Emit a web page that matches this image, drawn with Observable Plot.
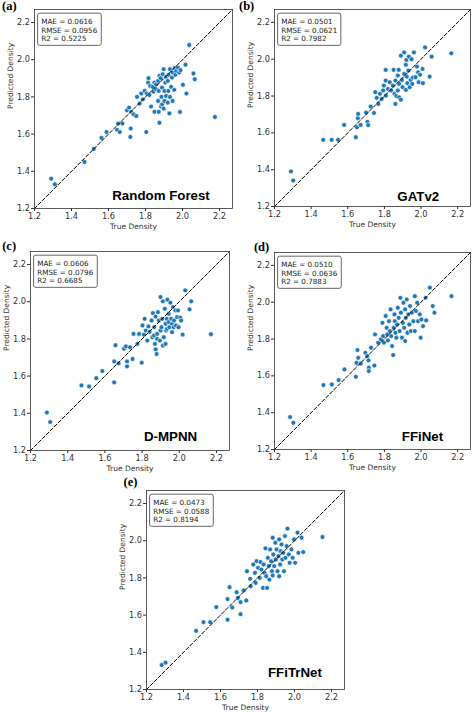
<!DOCTYPE html>
<html>
<head>
<meta charset="utf-8">
<script src="https://cdn.jsdelivr.net/npm/d3@7"></script>
<script src="https://cdn.jsdelivr.net/npm/@observablehq/plot@0.6"></script>
<style>
  html, body { margin: 0; padding: 0; background: #fff; }
  #figure { position: relative; width: 474px; height: 713px; overflow: hidden; background: #fff; }
  .panel { position: absolute; }
  .panel svg { overflow: visible; display: block; }
</style>
</head>
<body>
<div id="figure"></div>
<script>
// Shared axis setup: both axes show density in g/cm3 over the same range.
const densityTicks = [1.2, 1.4, 1.6, 1.8, 2.0, 2.2];
const axisRange = [1.2, 2.27];

// [true density, predicted density] for each model on the test set
const randomForest = [
  [1.29,1.36],[1.31,1.33],[1.47,1.45],[1.52,1.52],[1.562,1.58],[1.589,1.611],[1.646,1.623],[1.652,1.656],
  [1.661,1.611],[1.675,1.657],[1.70,1.728],[1.711,1.742],[1.718,1.585],[1.72,1.63],[1.723,1.72],[1.736,1.706],
  [1.75,1.697],[1.754,1.80],[1.768,1.764],[1.777,1.818],[1.786,1.787],[1.795,1.832],[1.804,1.611],[1.807,1.818],
  [1.814,1.877],[1.816,1.901],[1.821,1.81],[1.825,1.859],[1.83,1.748],[1.839,1.854],[1.843,1.828],[1.848,1.877],
  [1.848,1.72],[1.857,1.868],[1.857,1.841],[1.868,1.886],[1.868,1.778],[1.871,1.72],[1.871,1.832],[1.875,1.913],
  [1.875,1.661],[1.882,1.901],[1.884,1.748],[1.886,1.80],[1.889,1.85],[1.89,1.76],[1.893,1.922],[1.898,1.949],
  [1.898,1.737],[1.902,1.778],[1.902,1.832],[1.907,1.877],[1.911,1.908],[1.911,1.805],[1.92,1.886],[1.92,1.769],
  [1.923,1.832],[1.925,1.919],[1.929,1.711],[1.932,1.949],[1.932,1.80],[1.938,1.854],[1.943,1.904],[1.946,1.931],
  [1.946,1.778],[1.955,1.838],[1.957,1.955],[1.961,1.919],[1.966,1.94],[1.975,1.958],[1.982,1.931],[1.986,1.719],
  [1.989,1.944],[2.002,1.865],[2.016,1.973],[2.021,1.818],[2.036,2.079],[2.059,1.926],[2.066,1.895],[2.175,1.692]
];

const gatv2 = [
  [1.29,1.39],[1.302,1.341],[1.466,1.562],[1.512,1.562],[1.547,1.562],[1.58,1.643],[1.644,1.576],[1.65,1.63],
  [1.655,1.68],[1.657,1.703],[1.67,1.643],[1.70,1.71],[1.707,1.66],[1.711,1.642],[1.725,1.743],[1.743,1.708],
  [1.75,1.821],[1.758,1.79],[1.767,1.757],[1.776,1.812],[1.785,1.784],[1.793,1.83],[1.797,1.857],[1.807,1.884],
  [1.807,1.942],[1.808,1.802],[1.82,1.839],[1.829,1.875],[1.837,1.83],[1.846,1.857],[1.85,1.942],[1.855,1.812],
  [1.86,1.884],[1.86,1.757],[1.865,1.80],[1.873,1.911],[1.873,1.83],[1.878,1.942],[1.881,1.866],[1.881,1.793],
  [1.89,2.019],[1.89,1.78],[1.896,1.887],[1.899,1.848],[1.908,2.037],[1.908,1.92],[1.917,1.97],[1.917,1.833],
  [1.92,1.996],[1.922,1.905],[1.925,1.87],[1.931,1.938],[1.934,2.014],[1.938,1.848],[1.943,1.887],[1.948,2.0],
  [1.952,1.866],[1.955,1.90],[1.961,2.037],[1.97,1.902],[1.978,1.96],[1.984,1.929],[1.987,1.875],[1.995,1.915],
  [2.008,1.947],[2.01,1.87],[2.022,2.064],[2.047,1.905],[2.058,2.014],[2.165,2.032]
];

const dmpnn = [
  [1.288,1.404],[1.306,1.353],[1.474,1.55],[1.515,1.544],[1.554,1.589],[1.586,1.627],[1.65,1.566],[1.65,1.679],
  [1.657,1.766],[1.674,1.668],[1.703,1.747],[1.713,1.76],[1.719,1.679],[1.719,1.652],[1.735,1.755],[1.749,1.692],
  [1.754,1.827],[1.775,1.773],[1.784,1.827],[1.798,1.672],[1.802,1.872],[1.81,1.823],[1.814,1.908],[1.82,1.845],
  [1.828,1.791],[1.834,1.867],[1.84,1.838],[1.851,1.899],[1.855,1.809],[1.858,1.939],[1.864,1.818],[1.865,1.863],
  [1.869,1.773],[1.873,1.92],[1.873,1.744],[1.878,1.719],[1.881,1.827],[1.881,1.80],[1.885,1.944],[1.89,1.899],
  [1.896,1.791],[1.899,2.025],[1.899,1.845],[1.904,1.863],[1.908,1.908],[1.912,2.002],[1.912,1.764],[1.917,1.809],
  [1.922,1.962],[1.926,1.881],[1.926,1.773],[1.929,1.845],[1.933,1.908],[1.934,1.854],[1.936,2.011],[1.943,1.935],
  [1.943,1.89],[1.947,1.863],[1.952,1.995],[1.957,1.908],[1.961,1.881],[1.961,1.836],[1.966,1.971],[1.97,1.863],
  [1.972,1.899],[1.979,1.953],[1.982,1.872],[1.988,1.917],[1.993,1.953],[1.996,1.863],[2.005,1.914],[2.01,1.899],
  [2.018,1.823],[2.032,2.061],[2.055,1.959],[2.064,2.002],[2.17,1.825]
];

const ffinet = [
  [1.285,1.376],[1.303,1.345],[1.467,1.55],[1.513,1.553],[1.55,1.577],[1.582,1.635],[1.644,1.595],[1.648,1.671],
  [1.653,1.74],[1.657,1.698],[1.671,1.666],[1.696,1.725],[1.706,1.707],[1.713,1.684],[1.715,1.644],[1.715,1.626],
  [1.727,1.753],[1.745,1.656],[1.749,1.825],[1.766,1.78],[1.781,1.798],[1.789,1.888],[1.793,1.816],[1.798,1.78],
  [1.807,1.925],[1.812,1.861],[1.816,1.825],[1.819,1.792],[1.825,1.897],[1.83,1.843],[1.834,1.961],[1.837,1.816],
  [1.842,1.762],[1.848,1.713],[1.851,1.861],[1.855,1.934],[1.857,1.897],[1.86,1.834],[1.865,1.807],[1.869,1.879],
  [1.873,1.97],[1.878,1.915],[1.883,1.843],[1.887,2.024],[1.89,1.943],[1.896,1.807],[1.901,1.888],[1.904,1.997],
  [1.908,1.861],[1.913,1.961],[1.913,1.789],[1.917,1.915],[1.922,2.015],[1.926,1.834],[1.931,1.934],[1.936,1.879],
  [1.94,1.979],[1.945,1.843],[1.95,1.943],[1.958,1.897],[1.966,2.033],[1.966,1.843],[1.972,1.952],[1.979,1.997],
  [1.984,1.897],[1.993,1.934],[1.998,1.807],[2.002,1.906],[2.011,1.87],[2.025,2.024],[2.028,1.901],[2.048,2.079],
  [2.064,1.979],[2.073,1.943],[2.166,2.033]
];

const ffitrnet = [
  [1.282,1.332],[1.303,1.344],[1.468,1.515],[1.508,1.562],[1.544,1.562],[1.577,1.643],[1.638,1.575],[1.638,1.686],
  [1.649,1.75],[1.663,1.641],[1.687,1.723],[1.694,1.692],[1.708,1.67],[1.708,1.605],[1.725,1.733],[1.739,1.679],
  [1.743,1.836],[1.76,1.795],[1.763,1.755],[1.777,1.872],[1.786,1.827],[1.79,1.773],[1.795,1.89],[1.803,1.854],
  [1.812,1.80],[1.816,1.885],[1.821,1.845],[1.83,1.746],[1.833,1.872],[1.838,1.827],[1.843,1.959],[1.847,1.809],
  [1.852,1.746],[1.856,1.908],[1.861,1.863],[1.864,1.791],[1.868,1.953],[1.873,1.89],[1.878,1.836],[1.882,2.016],
  [1.882,1.813],[1.885,1.926],[1.89,1.863],[1.896,1.989],[1.899,1.899],[1.903,1.953],[1.908,1.836],[1.913,1.917],
  [1.917,2.007],[1.917,1.809],[1.922,1.872],[1.925,1.944],[1.93,1.98],[1.934,1.899],[1.939,1.935],[1.943,1.836],
  [1.948,2.025],[1.951,1.908],[1.957,1.971],[1.962,2.065],[1.969,1.926],[1.974,1.881],[1.983,1.953],[1.99,1.908],
  [1.997,2.007],[2.003,1.881],[2.016,2.043],[2.021,1.935],[2.038,2.016],[2.047,1.939],[2.151,2.02]
];

// Error metrics printed in each panel's box
const metricsRF = ["MAE = 0.0616", "RMSE = 0.0956", "R2 = 0.5225"];
const metricsGAT = ["MAE = 0.0501", "RMSE = 0.0621", "R2 = 0.7982"];
const metricsDMPNN = ["MAE = 0.0606", "RMSE = 0.0796", "R2 = 0.6685"];
const metricsFFiNet = ["MAE = 0.0510", "RMSE = 0.0636", "R2 = 0.7883"];
const metricsFFiTrNet = ["MAE = 0.0473", "RMSE = 0.0588", "R2 = 0.8194"];

// Panel layout: frame position/size on the page plus label offsets
const panels = [
  {letter: "(a)", model: "Random Forest", points: randomForest, metrics: metricsRF,
   left: 34, top: 9, w: 198, h: 199, letterDx: -32.5, letterDy: 0.5, nameDx: -22.7, nameDy: -8.7},
  {letter: "(b)", model: "GATv2", points: gatv2, metrics: metricsGAT,
   left: 274, top: 9, w: 196, h: 197, letterDx: -35.5, letterDy: 0.5, nameDx: -31.3, nameDy: -6},
  {letter: "(c)", model: "D-MPNN", points: dmpnn, metrics: metricsDMPNN,
   left: 30, top: 251, w: 199, h: 199, letterDx: -28.3, letterDy: -1.5, nameDx: -32.3, nameDy: -10},
  {letter: "(d)", model: "FFiNet", points: ffinet, metrics: metricsFFiNet,
   left: 274, top: 252, w: 196, h: 197, letterDx: -20.6, letterDy: -1.5, nameDx: -27.3, nameDy: -9},
  {letter: "(e)", model: "FFiTrNet", points: ffitrnet, metrics: metricsFFiTrNet,
   left: 146, top: 490, w: 198, h: 199, letterDx: -23, letterDy: -5, nameDx: -22.6, nameDy: -12.6}
];

const ML = 34, MT = 9, MR = 4, MB = 26;
const fmt = d3.format(".1f");
const figure = document.getElementById("figure");

for (const p of panels) {
  const plot = Plot.plot({
    width: ML + p.w + MR,
    height: MT + p.h + MB,
    marginLeft: ML, marginTop: MT, marginRight: MR, marginBottom: MB,
    style: {fontFamily: "DejaVu Sans", fontSize: "8.2px", color: "#333", background: "transparent", overflow: "visible"},
    x: {domain: axisRange, ticks: densityTicks, tickFormat: fmt, tickSize: 3, tickPadding: 1.5, label: null},
    y: {domain: axisRange, ticks: densityTicks, tickFormat: fmt, tickSize: 3, tickPadding: 1.5, label: null},
    marks: [
      Plot.dot(p.points, {x: d => d[0], y: d => d[1], r: 2.4, fill: "#1f77b4", stroke: "white", strokeWidth: 0.6}),
      Plot.line(axisRange.map(v => [v, v]), {x: d => d[0], y: d => d[1], stroke: "black", strokeWidth: 1, strokeDasharray: "3.6,2"}),
      Plot.frame({stroke: "#333", strokeWidth: 0.8}),
      Plot.text(["True Density"], {frameAnchor: "bottom", dy: 20.7, lineAnchor: "bottom", fontSize: 7.5, fill: "#333"}),
      Plot.text(["Predicted Density"], {frameAnchor: "left", dx: -22, rotate: -90, lineAnchor: "bottom", fontSize: 7.5, fill: "#333"}),
      Plot.text([p.metrics.join("\n")], {frameAnchor: "top-left", dx: 6.7, dy: 9, lineAnchor: "top", textAnchor: "start",
        lineHeight: 1.17, fontSize: 7.2, fill: "#222"}),
      Plot.text([p.model], {frameAnchor: "bottom-right", dx: p.nameDx, dy: p.nameDy, textAnchor: "end", lineAnchor: "bottom",
        fontFamily: "Liberation Sans, Arial, sans-serif", fontWeight: "bold", fontSize: 13.3, fill: "black"}),
      Plot.text([p.letter], {frameAnchor: "top-left", dx: p.letterDx, dy: p.letterDy, textAnchor: "start", lineAnchor: "bottom",
        fontFamily: "Liberation Serif, Times New Roman, serif", fontWeight: "bold", fontSize: 12.5, fill: "black"})
    ]
  });

  const holder = document.createElement("div");
  holder.className = "panel";
  holder.style.left = (p.left - ML) + "px";
  holder.style.top = (p.top - MT) + "px";
  holder.style.width = (ML + p.w + MR) + "px";
  holder.style.height = (MT + p.h + MB) + "px";
  holder.appendChild(plot);
  figure.appendChild(holder);

  // Rounded legend-style box behind the metrics text, sized from the text itself
  const metricsText = Array.from(plot.querySelectorAll("text"))
    .find(t => t.textContent.startsWith("MAE"));
  if (metricsText) {
    const bb = metricsText.getBBox();
    const rect = document.createElementNS("http://www.w3.org/2000/svg", "rect");
    rect.setAttribute("x", bb.x - 3.6);
    rect.setAttribute("y", bb.y - 4.3);
    rect.setAttribute("width", bb.width + 7.2);
    rect.setAttribute("height", bb.height + 6.3);
    rect.setAttribute("rx", 2);
    rect.setAttribute("fill", "white");
    rect.setAttribute("stroke", "#555");
    rect.setAttribute("stroke-width", 0.9);
    const tr = metricsText.getAttribute("transform");
    if (tr) rect.setAttribute("transform", tr);
    metricsText.parentNode.insertBefore(rect, metricsText);
  }
}
</script>
</body>
</html>
